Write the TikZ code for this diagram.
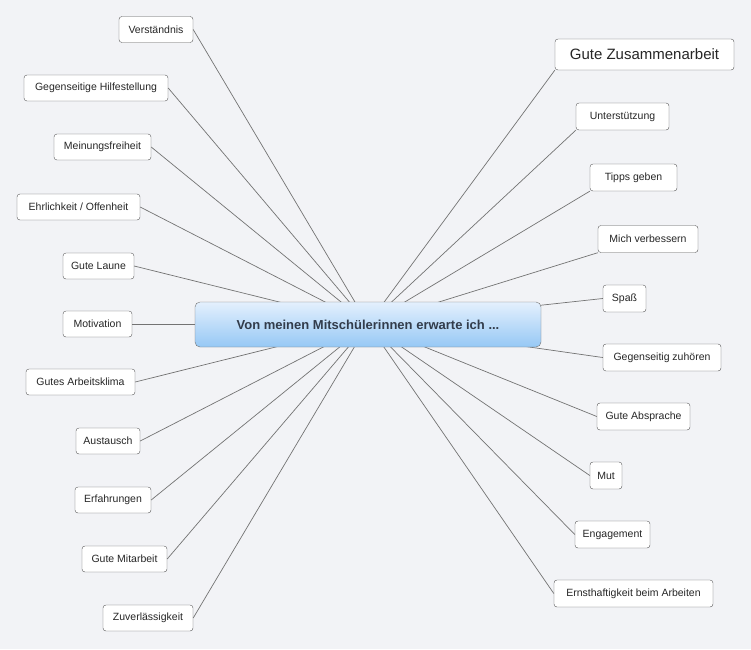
\documentclass[tikz,border=0pt]{standalone}
\usepackage{fontspec}
\setmainfont{Liberation Sans}
\begin{document}
\begin{tikzpicture}[x=1pt,y=-1pt,
  leaf/.style={draw=black!65,rounded corners=3pt,fill=white,font=\fontsize{10.5}{12}\selectfont,text=black!85,inner sep=0pt,minimum height=26pt},
  conn/.style={draw=black!55,line width=0.7pt}]
\fill[fill={rgb,255:red,242;green,243;blue,246}] (0,0) rectangle (751,649);
\useasboundingbox (0,0) rectangle (751,649);
\coordinate (c) at (368,324);
\foreach \n/\x/\y/\w/\t in {
 l1/156/29.5/74/Verständnis, l2/96/88/144/Gegenseitige Hilfestellung, l3/102.5/147/97/Meinungsfreiheit,
 l4/78.5/207/123/{Ehrlichkeit / Offenheit}, l5/98.5/266/71/Gute Laune, l6/97.5/324/69/Motivation,
 l7/80.5/382/109/Gutes Arbeitsklima, l8/108/441/64/Austausch, l9/113/500/76/Erfahrungen,
 l10/124.5/559/85/Gute Mitarbeit, l11/148/618/90/Zuverlässigkeit}
 {\node[leaf,minimum width=\w pt] (\n) at (\x,\y) {\t};
  \draw[conn] (c) -- (\n.east);}
\foreach \n/\x/\y/\w/\t/\a in {
 r2/622.5/116.5/93/Unterstützung/south west, r3/633.5/177.5/87/Tipps geben/south west,
 r4/648/239/100/Mich verbessern/south west, r5/624.5/298.5/43/Spaß/west,
 r6/662/357.5/118/Gegenseitig zuhören/west, r7/643.5/416.5/93/Gute Absprache/west,
 r8/606/475.5/32/Mut/west, r9/612.5/534.5/75/Engagement/west,
 r10/633.5/593.5/159/Ernsthaftigkeit beim Arbeiten/west}
 {\node[leaf,minimum width=\w pt,minimum height=27pt] (\n) at (\x,\y) {\t};
  \draw[conn] (c) -- (\n.\a);}
\node[leaf,minimum width=179pt,minimum height=31pt,font=\fontsize{15}{18}\selectfont] (r1) at (644.5,54.5) {Gute Zusammenarbeit};
\draw[conn] (c) -- (r1.south west);
\node[draw=black!55,rounded corners=5pt,minimum width=346pt,minimum height=45pt,
  top color={rgb,255:red,228;green,240;blue,253},bottom color={rgb,255:red,150;green,200;blue,245},
  font=\bfseries\fontsize{13}{15}\selectfont,text={rgb,255:red,50;green,60;blue,75}] (main) at (368,324.5)
  {Von meinen Mitschülerinnen erwarte ich ...};
\end{tikzpicture}
\end{document}
